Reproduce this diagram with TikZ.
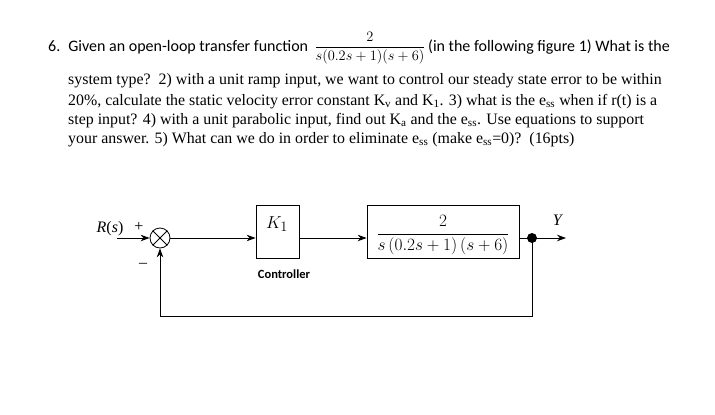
\documentclass[tikz,border=0pt]{standalone}
\usepackage{fontspec}
\setmainfont{Liberation Serif}
\newfontfamily\calfont{Carlito}
\usetikzlibrary{arrows.meta}
\newcommand{\ess}{e\textsubscript{ss}}
\begin{document}
\begin{tikzpicture}[x=1pt,y=-1pt,
  txt/.style={anchor=base west,inner sep=0pt,font=\fontsize{15.9}{18}\selectfont},
  blk/.style={draw,line width=0.8pt,inner sep=0pt},
  arr/.style={line width=0.8pt,-{Stealth[length=9pt,width=6.5pt]}},
  ln/.style={line width=0.8pt}]
\useasboundingbox (0,0) rectangle (715,415);
% text
\node[txt,font=\calfont\fontsize{16}{18}\selectfont] (l1a) at (48,51) {6.\hspace{8pt}Given an open-loop transfer function};
\node[inner sep=0pt,font=\fontsize{15}{18}\selectfont] (frac) at (370,48) {$\displaystyle\frac{2}{s(0.2s+1)(s+6)}$};
\node[txt,font=\calfont\fontsize{16}{18}\selectfont] (l1b) at (428,51) {(in the following figure 1) What is the};
\node[txt] (l2) at (68,84) {system type?\ \ 2) with a unit ramp input, we want to control our steady state error to be within};
\node[txt] (l3) at (68,105) {20\%, calculate the static velocity error constant K\textsubscript{v} and K\textsubscript{1}. 3) what is the \ess{} when if r(t) is a};
\node[txt] (l4) at (68,124) {step input? 4) with a unit parabolic input, find out K\textsubscript{a} and the \ess. Use equations to support};
\node[txt] (l5) at (68,143) {your answer. 5) What can we do in order to eliminate \ess{} (make \ess=0)?\ \ (16pts)};
% diagram
\coordinate (in) at (117,238);
\node[draw,circle,line width=0.8pt,minimum size=20pt,inner sep=0pt] (sum) at (160,238) {};
\draw[ln] (sum.north west)--(sum.south east) (sum.north east)--(sum.south west);
\node[blk,minimum width=43pt,minimum height=53pt] (k) at (277.5,231.5) {};
\node[font=\fontsize{19}{22}\selectfont] at (277,224) {$K_1$};
\node[blk,minimum width=152pt,minimum height=53pt] (g) at (443,231.5) {};
\node[font=\fontsize{17}{20}\selectfont] at (443,235) {$\displaystyle\frac{2}{s\left(0.2s+1\right)\left(s+6\right)}$};
\node[font=\calfont\bfseries\fontsize{12.5}{14}\selectfont] (ctl) at (284,274) {Controller};
\node[font=\fontsize{16}{18}\selectfont] (rs) at (110,229) {\textit{R}(\textit{s})};
\node[font=\fontsize{16}{18}\selectfont] (plus) at (139,227) {+};
\node[font=\fontsize{16}{18}\selectfont] (minus) at (143,265) {--};
\node[font=\fontsize{16}{18}\selectfont] (y) at (558,220) {\textit{Y}};
\coordinate (out) at (566,238);
\coordinate (fb1) at (532,316);
\coordinate (fb2) at (160,316);
\fill (532,238) circle (5pt) coordinate (dot);
\draw[arr] (in)--(sum.west);
\draw[arr] (sum.east)--(k.west |- sum.east);
\draw[arr] (k.east |- sum.east)--(g.west |- sum.east);
\draw[ln] (g.east |- sum.east)--(dot);
\draw[arr] (dot)--(out);
\draw[arr] (dot)--(fb1)--(fb2)--(sum.south);
\end{tikzpicture}
\end{document}
